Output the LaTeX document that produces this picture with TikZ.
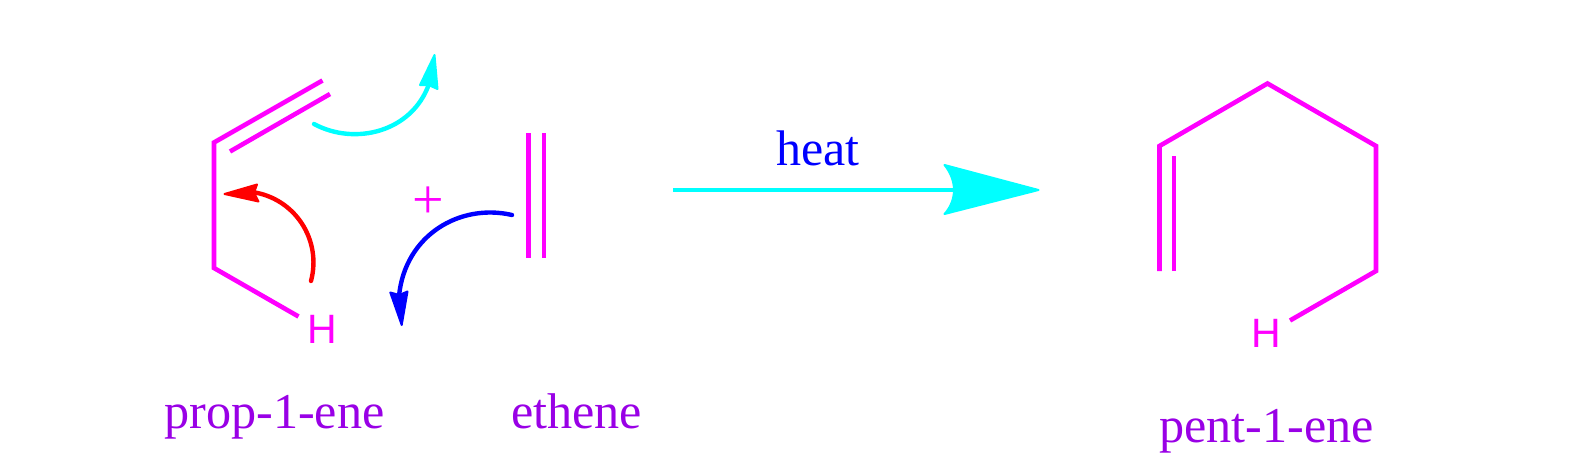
\documentclass[tikz,border=0pt]{standalone}
\usepackage{fontspec}
\setmainfont{Liberation Serif}
\newfontfamily\hfont{Liberation Sans}
\definecolor{mag}{RGB}{255,0,255}
\definecolor{cy}{RGB}{0,255,255}
\definecolor{pur}{RGB}{153,0,230}
\tikzset{
  bond/.style={draw=mag,line width=4.6pt,line join=miter},
  curve/.style={line width=4.4pt,line cap=round},
  head/.style={line join=round,line width=2pt},
  molname/.style={text=pur,font=\fontsize{50.2}{50}\selectfont,inner sep=0pt,anchor=base},
  atom/.style={text=mag,font=\hfont\fontsize{41}{41}\selectfont,inner sep=0pt,anchor=base}
}
\begin{document}
\begin{tikzpicture}[x=1pt,y=-1pt]
\useasboundingbox (0,0) rectangle (1584,466);
% left molecule
\coordinate (a1) at (322.5,80.5);
\coordinate (a2) at (214,142.5);
\coordinate (a3) at (214,268);
\coordinate (a4) at (298.5,316.5);
\coordinate (b1) at (330,94);
\coordinate (b2) at (230,151.5);
\draw[bond] (a1) -- (a2) -- (a3) -- (a4);
\draw[bond] (b1) -- (b2);
\node[atom] (h1) at (322,343.5) {H};
% ethene
\coordinate (e1) at (528.5,133);
\coordinate (e2) at (528.5,258);
\coordinate (e3) at (544,133);
\coordinate (e4) at (544,258);
\draw[bond] (e1) -- (e2);
\draw[bond] (e3) -- (e4);
\node[text=mag,font=\fontsize{56}{56}\selectfont,inner sep=0pt] (plus) at (428.5,203) {+};
% cyan curved arrow
\coordinate (c1) at (314,124);
\coordinate (c2) at (429,84);
\draw[curve,draw=cy] (c1) .. controls (355,146) and (412,132) .. (c2);
\fill[cy,draw=cy,head] (434.5,55) -- (420,85) -- (428.5,85) -- (437.5,89) -- cycle;
% red curved arrow
\coordinate (r1) at (311,281);
\coordinate (r2) at (252,192);
\draw[curve,draw=red] (r1) .. controls (322,240) and (295,198) .. (r2);
\fill[red,draw=red,head] (224.5,194) -- (257,184.5) -- (254,192.7) -- (258.5,201.5) -- cycle;
% blue curved arrow
\coordinate (l1) at (512,215);
\coordinate (l2) at (399,296);
\draw[curve,draw=blue] (l1) .. controls (460,203) and (405,235) .. (l2);
\fill[blue,draw=blue,head] (401.7,325) -- (390.3,292.5) -- (399.3,295) -- (407.5,291.5) -- cycle;
% main arrow
\coordinate (m1) at (673,190);
\coordinate (m2) at (956,190);
\draw[draw=cy,line width=4pt] (m1) -- (m2);
\fill[cy,draw=cy,head] (1038.5,190) -- (944.5,165) .. controls (951,173) and (954,182) .. (954,190) .. controls (954,198) and (951,207) .. (944.5,214) -- cycle;
\node[text=blue,font=\fontsize{50}{50}\selectfont,inner sep=0pt,anchor=base] (heat) at (818,165) {heat};
% right molecule
\coordinate (p1) at (1159.5,271);
\coordinate (p2) at (1159.5,146);
\coordinate (p3) at (1267.5,83.5);
\coordinate (p4) at (1376,146);
\coordinate (p5) at (1376,271);
\coordinate (p6) at (1290,320.5);
\coordinate (q1) at (1174,271);
\coordinate (q2) at (1174,155.5);
\draw[bond] (p1) -- (p2) -- (p3) -- (p4) -- (p5) -- (p6);
\draw[bond] (q1) -- (q2);
\node[atom] (h2) at (1266.5,347) {H};
% names
\node[molname] (n1) at (274.5,428) {prop-1-ene};
\node[molname] (n2) at (576.5,428) {ethene};
\node[molname] (n3) at (1266.5,442.5) {pent-1-ene};
\end{tikzpicture}
\end{document}
